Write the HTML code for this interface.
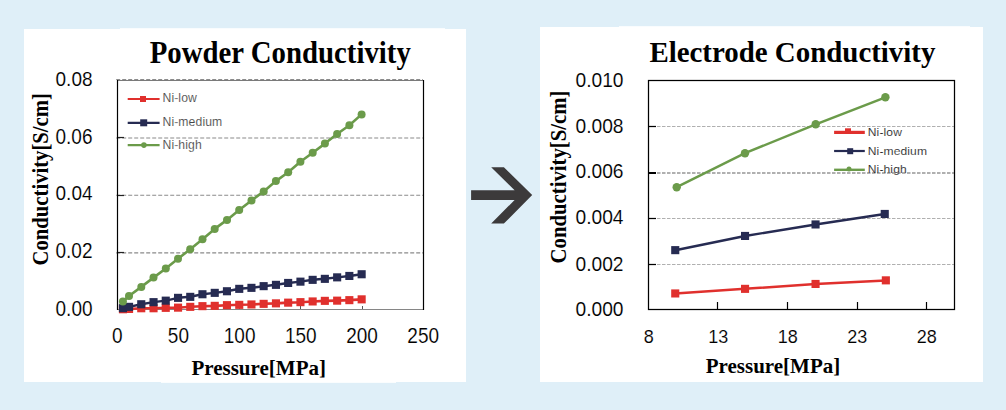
<!DOCTYPE html>
<html><head><meta charset="utf-8"><style>
html,body{margin:0;padding:0;background:#DFEFF8;}
body{width:1006px;height:410px;overflow:hidden;}
svg{display:block;}
.serif{font-family:"Liberation Serif",serif;font-weight:bold;fill:#000;}
.sans{font-family:"Liberation Sans",sans-serif;fill:#000;stroke:#fff;stroke-width:0.12px;}
</style></head><body>
<svg width="1006" height="410" viewBox="0 0 1006 410">
<rect x="0" y="0" width="1006" height="410" fill="#DFEFF8"/>
<rect x="24" y="29" width="442" height="353" fill="#fff"/>
<rect x="120" y="28" width="325" height="1" fill="#fff" opacity="0.8"/>
<rect x="161" y="382" width="235" height="1" fill="#fff" opacity="0.85"/>
<rect x="540" y="27" width="443" height="355" fill="#fff"/>
<rect x="619" y="26" width="351" height="1" fill="#fff" opacity="0.8"/>

<g id="left">
<line x1="116.2" y1="79.5" x2="423" y2="79.5" stroke="#8C8C8C" stroke-width="1" stroke-dasharray="4 2"/>
<line x1="117" y1="80.5" x2="423" y2="80.5" stroke="#7A7A7A" stroke-width="1"/>
<line x1="116.2" y1="138.0" x2="423" y2="138.0" stroke="#8A8A8A" stroke-width="1.1" stroke-dasharray="4 2"/>
<line x1="116.2" y1="195.3" x2="423" y2="195.3" stroke="#8A8A8A" stroke-width="1.1" stroke-dasharray="4 2"/>
<line x1="116.2" y1="252.9" x2="423" y2="252.9" stroke="#8A8A8A" stroke-width="1.1" stroke-dasharray="4 2"/>
<line x1="117" y1="309.5" x2="424" y2="309.5" stroke="#868686" stroke-width="1"/>
<line x1="117.5" y1="80" x2="117.5" y2="310" stroke="#000" stroke-width="1.2"/>
<line x1="423.5" y1="80" x2="423.5" y2="310" stroke="#000" stroke-width="1.2"/>
<line x1="118" y1="137.5" x2="124" y2="137.5" stroke="#222" stroke-width="1.2"/>
<line x1="118" y1="195.5" x2="124" y2="195.5" stroke="#222" stroke-width="1.2"/>
<line x1="118" y1="252.5" x2="124" y2="252.5" stroke="#222" stroke-width="1.2"/>
<line x1="178.5" y1="306" x2="178.5" y2="309" stroke="#555" stroke-width="1"/>
<line x1="239.5" y1="306" x2="239.5" y2="309" stroke="#555" stroke-width="1"/>
<line x1="300.5" y1="306" x2="300.5" y2="309" stroke="#555" stroke-width="1"/>
<line x1="362.5" y1="306" x2="362.5" y2="309" stroke="#555" stroke-width="1"/>
<polyline points="122.9,309.3 129.0,309.0 141.3,308.3 153.5,308.3 165.8,307.9 178.0,307.7 190.2,306.8 202.5,306.2 214.7,305.9 227.0,305.2 239.2,304.8 251.5,304.5 263.7,303.8 275.9,303.4 288.2,302.6 300.4,302.2 312.7,301.5 324.9,300.9 337.1,300.6 349.4,300.1 361.6,299.4" fill="none" stroke="#E0302D" stroke-width="2.6" stroke-linejoin="round"/>
<rect x="118.9" y="305.2" width="8.1" height="8.1" fill="#E0302D"/>
<rect x="125.0" y="304.9" width="8.1" height="8.1" fill="#E0302D"/>
<rect x="137.2" y="304.2" width="8.1" height="8.1" fill="#E0302D"/>
<rect x="149.5" y="304.2" width="8.1" height="8.1" fill="#E0302D"/>
<rect x="161.7" y="303.8" width="8.1" height="8.1" fill="#E0302D"/>
<rect x="174.0" y="303.6" width="8.1" height="8.1" fill="#E0302D"/>
<rect x="186.2" y="302.8" width="8.1" height="8.1" fill="#E0302D"/>
<rect x="198.4" y="302.1" width="8.1" height="8.1" fill="#E0302D"/>
<rect x="210.7" y="301.8" width="8.1" height="8.1" fill="#E0302D"/>
<rect x="222.9" y="301.1" width="8.1" height="8.1" fill="#E0302D"/>
<rect x="235.2" y="300.8" width="8.1" height="8.1" fill="#E0302D"/>
<rect x="247.4" y="300.4" width="8.1" height="8.1" fill="#E0302D"/>
<rect x="259.6" y="299.8" width="8.1" height="8.1" fill="#E0302D"/>
<rect x="271.9" y="299.3" width="8.1" height="8.1" fill="#E0302D"/>
<rect x="284.1" y="298.6" width="8.1" height="8.1" fill="#E0302D"/>
<rect x="296.4" y="298.1" width="8.1" height="8.1" fill="#E0302D"/>
<rect x="308.6" y="297.4" width="8.1" height="8.1" fill="#E0302D"/>
<rect x="320.8" y="296.8" width="8.1" height="8.1" fill="#E0302D"/>
<rect x="333.1" y="296.6" width="8.1" height="8.1" fill="#E0302D"/>
<rect x="345.3" y="296.1" width="8.1" height="8.1" fill="#E0302D"/>
<rect x="357.6" y="295.3" width="8.1" height="8.1" fill="#E0302D"/>
<polyline points="122.9,308.1 129.0,306.8 141.3,304.3 153.5,302.1 165.8,300.6 178.0,297.8 190.2,296.8 202.5,294.3 214.7,292.9 227.0,291.3 239.2,288.8 251.5,287.8 263.7,286.2 275.9,284.8 288.2,283.0 300.4,281.6 312.7,279.8 324.9,278.8 337.1,277.4 349.4,276.0 361.6,274.3" fill="none" stroke="#262B52" stroke-width="2.4" stroke-linejoin="round"/>
<rect x="118.9" y="304.1" width="8.1" height="8.1" fill="#262B52"/>
<rect x="125.0" y="302.8" width="8.1" height="8.1" fill="#262B52"/>
<rect x="137.2" y="300.2" width="8.1" height="8.1" fill="#262B52"/>
<rect x="149.5" y="298.1" width="8.1" height="8.1" fill="#262B52"/>
<rect x="161.7" y="296.6" width="8.1" height="8.1" fill="#262B52"/>
<rect x="174.0" y="293.8" width="8.1" height="8.1" fill="#262B52"/>
<rect x="186.2" y="292.8" width="8.1" height="8.1" fill="#262B52"/>
<rect x="198.4" y="290.2" width="8.1" height="8.1" fill="#262B52"/>
<rect x="210.7" y="288.8" width="8.1" height="8.1" fill="#262B52"/>
<rect x="222.9" y="287.2" width="8.1" height="8.1" fill="#262B52"/>
<rect x="235.2" y="284.8" width="8.1" height="8.1" fill="#262B52"/>
<rect x="247.4" y="283.8" width="8.1" height="8.1" fill="#262B52"/>
<rect x="259.6" y="282.1" width="8.1" height="8.1" fill="#262B52"/>
<rect x="271.9" y="280.8" width="8.1" height="8.1" fill="#262B52"/>
<rect x="284.1" y="278.9" width="8.1" height="8.1" fill="#262B52"/>
<rect x="296.4" y="277.6" width="8.1" height="8.1" fill="#262B52"/>
<rect x="308.6" y="275.8" width="8.1" height="8.1" fill="#262B52"/>
<rect x="320.8" y="274.8" width="8.1" height="8.1" fill="#262B52"/>
<rect x="333.1" y="273.3" width="8.1" height="8.1" fill="#262B52"/>
<rect x="345.3" y="271.9" width="8.1" height="8.1" fill="#262B52"/>
<rect x="357.6" y="270.2" width="8.1" height="8.1" fill="#262B52"/>
<polyline points="122.9,301.6 129.0,296.0 141.3,286.9 153.5,277.6 165.8,268.5 178.0,258.8 190.2,249.2 202.5,239.2 214.7,228.9 227.0,219.9 239.2,210.0 251.5,200.5 263.7,191.4 275.9,181.1 288.2,172.3 300.4,161.8 312.7,152.7 324.9,143.6 337.1,134.0 349.4,125.2 361.6,114.4" fill="none" stroke="#6B9B4A" stroke-width="2.6" stroke-linejoin="round"/>
<circle cx="122.9" cy="301.6" r="4" fill="#6B9B4A"/>
<circle cx="129.0" cy="296.0" r="4" fill="#6B9B4A"/>
<circle cx="141.3" cy="286.9" r="4" fill="#6B9B4A"/>
<circle cx="153.5" cy="277.6" r="4" fill="#6B9B4A"/>
<circle cx="165.8" cy="268.5" r="4" fill="#6B9B4A"/>
<circle cx="178.0" cy="258.8" r="4" fill="#6B9B4A"/>
<circle cx="190.2" cy="249.2" r="4" fill="#6B9B4A"/>
<circle cx="202.5" cy="239.2" r="4" fill="#6B9B4A"/>
<circle cx="214.7" cy="228.9" r="4" fill="#6B9B4A"/>
<circle cx="227.0" cy="219.9" r="4" fill="#6B9B4A"/>
<circle cx="239.2" cy="210.0" r="4" fill="#6B9B4A"/>
<circle cx="251.5" cy="200.5" r="4" fill="#6B9B4A"/>
<circle cx="263.7" cy="191.4" r="4" fill="#6B9B4A"/>
<circle cx="275.9" cy="181.1" r="4" fill="#6B9B4A"/>
<circle cx="288.2" cy="172.3" r="4" fill="#6B9B4A"/>
<circle cx="300.4" cy="161.8" r="4" fill="#6B9B4A"/>
<circle cx="312.7" cy="152.7" r="4" fill="#6B9B4A"/>
<circle cx="324.9" cy="143.6" r="4" fill="#6B9B4A"/>
<circle cx="337.1" cy="134.0" r="4" fill="#6B9B4A"/>
<circle cx="349.4" cy="125.2" r="4" fill="#6B9B4A"/>
<circle cx="361.6" cy="114.4" r="4" fill="#6B9B4A"/>
<line x1="127.7" y1="99" x2="159.6" y2="99" stroke="#E0302D" stroke-width="2.2"/>
<rect x="140" y="96" width="6" height="6" fill="#E0302D"/>
<line x1="127.7" y1="122.9" x2="159.6" y2="122.9" stroke="#262B52" stroke-width="2.2"/>
<rect x="140.2" y="119.3" width="7" height="7" fill="#262B52"/>
<line x1="127.7" y1="145.1" x2="159.6" y2="145.1" stroke="#6B9B4A" stroke-width="2.4"/>
<circle cx="143.9" cy="145.1" r="2.8" fill="#6B9B4A"/>
<text x="162.5" y="102.4" class="sans" font-size="12.2" letter-spacing="0.1" style="fill:#444">Ni-low</text>
<text x="162.5" y="126" class="sans" font-size="12.2" letter-spacing="0.1" style="fill:#444">Ni-medium</text>
<text x="162.5" y="148.5" class="sans" font-size="12.2" letter-spacing="0.1" style="fill:#444">Ni-high</text>
<text transform="translate(92.5,85.9) scale(1,1.07)" class="sans" font-size="19" text-anchor="end">0.08</text>
<text transform="translate(92.5,143.9) scale(1,1.16)" class="sans" font-size="19" text-anchor="end">0.06</text>
<text transform="translate(92.5,200.4) scale(1,1.09)" class="sans" font-size="19" text-anchor="end">0.04</text>
<text transform="translate(92.5,257.9) scale(1,1.125)" class="sans" font-size="19" text-anchor="end">0.02</text>
<text transform="translate(92.5,315.6) scale(1,1.17)" class="sans" font-size="19" text-anchor="end">0.00</text>
<text transform="translate(117.2,343) scale(1,1.13)" class="sans" font-size="19" text-anchor="middle">0</text>
<text transform="translate(178.4,343) scale(1,1.13)" class="sans" font-size="19" text-anchor="middle">50</text>
<text transform="translate(239.6,343) scale(1,1.13)" class="sans" font-size="19" text-anchor="middle">100</text>
<text transform="translate(300.8,343) scale(1,1.13)" class="sans" font-size="19" text-anchor="middle">150</text>
<text transform="translate(362.0,343) scale(1,1.13)" class="sans" font-size="19" text-anchor="middle">200</text>
<text transform="translate(423.2,343) scale(1,1.13)" class="sans" font-size="19" text-anchor="middle">250</text>
<text transform="translate(280.3,63.3) scale(1,1.065)" class="serif" font-size="28.8" text-anchor="middle">Powder Conductivity</text>
<text x="258.7" y="375.2" class="serif" font-size="21" text-anchor="middle">Pressure[MPa]</text>
<text transform="translate(48.1,179.3) rotate(-90) scale(0.92,1)" x="0" y="0" class="serif" font-size="22.5" text-anchor="middle">Conductivity[S/cm]</text>
</g>
<g id="arrow" fill="#3C3A3B">
<polygon points="471.1,190.3 514.6,190.3 491.2,167.2 503.9,167.2 532.2,195.1 503.9,223.5 491.2,223.5 514.6,200 471.1,200"/>
</g>
<g id="right">
<line x1="657" y1="126.5" x2="954" y2="126.5" stroke="#B0B0B0" stroke-width="1" stroke-dasharray="3.5 1.5"/>
<line x1="657" y1="173.0" x2="954" y2="173.0" stroke="#B0B0B0" stroke-width="2" stroke-dasharray="3.5 1.5"/>
<line x1="657" y1="218.5" x2="954" y2="218.5" stroke="#B0B0B0" stroke-width="1" stroke-dasharray="3.5 1.5"/>
<line x1="657" y1="264.5" x2="954" y2="264.5" stroke="#B0B0B0" stroke-width="1" stroke-dasharray="3.5 1.5"/>
<rect x="648.5" y="80.5" width="306" height="229" fill="none" stroke="#000" stroke-width="1.25"/>
<line x1="649" y1="126.5" x2="656" y2="126.5" stroke="#000" stroke-width="1.25"/>
<line x1="649" y1="173.0" x2="656" y2="173.0" stroke="#000" stroke-width="2"/>
<line x1="649" y1="218.5" x2="656" y2="218.5" stroke="#000" stroke-width="1.25"/>
<line x1="649" y1="264.5" x2="656" y2="264.5" stroke="#000" stroke-width="1.25"/>
<line x1="717.5" y1="302" x2="717.5" y2="309" stroke="#000" stroke-width="1.2"/>
<line x1="787.5" y1="302" x2="787.5" y2="309" stroke="#000" stroke-width="1.2"/>
<line x1="857.5" y1="302" x2="857.5" y2="309" stroke="#000" stroke-width="1.2"/>
<line x1="926.5" y1="302" x2="926.5" y2="309" stroke="#000" stroke-width="1.2"/>
<polyline points="675.3,293.5 745,288.8 815.5,284.0 885.8,280.4" fill="none" stroke="#E0302D" stroke-width="2.5"/>
<rect x="671.2" y="289.4" width="8.1" height="8.1" fill="#E0302D"/>
<rect x="741.0" y="284.8" width="8.1" height="8.1" fill="#E0302D"/>
<rect x="811.5" y="279.9" width="8.1" height="8.1" fill="#E0302D"/>
<rect x="881.8" y="276.3" width="8.1" height="8.1" fill="#E0302D"/>
<polyline points="675.3,250.2 745,236.0 815.5,224.5 884.7,214.0" fill="none" stroke="#262B52" stroke-width="2.4"/>
<rect x="671.2" y="246.1" width="8.1" height="8.1" fill="#262B52"/>
<rect x="741.0" y="231.9" width="8.1" height="8.1" fill="#262B52"/>
<rect x="811.5" y="220.4" width="8.1" height="8.1" fill="#262B52"/>
<rect x="880.7" y="209.9" width="8.1" height="8.1" fill="#262B52"/>
<polyline points="676.7,187.2 745.0,153.2 815.7,124.3 885.4,97.3" fill="none" stroke="#6B9B4A" stroke-width="2.5"/>
<circle cx="676.7" cy="187.2" r="4.2" fill="#6B9B4A"/>
<circle cx="745.0" cy="153.2" r="4.2" fill="#6B9B4A"/>
<circle cx="815.7" cy="124.3" r="4.2" fill="#6B9B4A"/>
<circle cx="885.4" cy="97.3" r="4.2" fill="#6B9B4A"/>
<line x1="834.1" y1="132.4" x2="864.8" y2="132.4" stroke="#E0302D" stroke-width="3.2"/>
<rect x="845" y="128.3" width="6" height="4" fill="#E0302D"/>
<line x1="834.1" y1="151" x2="864.8" y2="151" stroke="#262B52" stroke-width="2.2"/>
<rect x="847.2" y="148.2" width="6" height="6" fill="#262B52"/>
<line x1="834.1" y1="169.8" x2="864.8" y2="169.8" stroke="#6B9B4A" stroke-width="2.4"/>
<circle cx="849" cy="169" r="2.5" fill="#6B9B4A"/>
<text transform="translate(867.8,136.1) scale(1,0.84)" class="sans" font-size="12.1" letter-spacing="0.1" style="fill:#222">Ni-low</text>
<text transform="translate(867.8,154.9) scale(1,0.84)" class="sans" font-size="12.1" letter-spacing="0.1" style="fill:#222">Ni-medium</text>
<text transform="translate(867.8,173.0) scale(1,0.84)" class="sans" font-size="12.1" letter-spacing="0.1" style="fill:#222">Ni-high</text>
<text transform="translate(623.5,86.9) scale(1,1.06)" class="sans" font-size="19.2" text-anchor="end">0.010</text>
<text transform="translate(623.5,132.6) scale(1,1.06)" class="sans" font-size="19.2" text-anchor="end">0.008</text>
<text transform="translate(623.5,177.7) scale(1,1.06)" class="sans" font-size="19.2" text-anchor="end">0.006</text>
<text transform="translate(623.5,223.7) scale(1,1.06)" class="sans" font-size="19.2" text-anchor="end">0.004</text>
<text transform="translate(623.5,270.7) scale(1,1.06)" class="sans" font-size="19.2" text-anchor="end">0.002</text>
<text transform="translate(623.5,315.6) scale(1,1.06)" class="sans" font-size="19.2" text-anchor="end">0.000</text>
<text transform="translate(648.7,342.8) scale(1,1.07)" class="sans" font-size="18" text-anchor="middle">8</text>
<text transform="translate(718.2,342.8) scale(1,1.07)" class="sans" font-size="18" text-anchor="middle">13</text>
<text transform="translate(787.7,342.8) scale(1,1.07)" class="sans" font-size="18" text-anchor="middle">18</text>
<text transform="translate(857.2,342.8) scale(1,1.07)" class="sans" font-size="18" text-anchor="middle">23</text>
<text transform="translate(926.7,342.8) scale(1,1.07)" class="sans" font-size="18" text-anchor="middle">28</text>
<text transform="translate(792.4,61.6) scale(1,1.02)" class="serif" font-size="28.9" text-anchor="middle">Electrode Conductivity</text>
<text x="773" y="373.4" class="serif" font-size="21" text-anchor="middle">Pressure[MPa]</text>
<text transform="translate(565.7,177.0) rotate(-90) scale(0.926,1)" x="0" y="0" class="serif" font-size="22.4" text-anchor="middle">Conductivity[S/cm]</text>
</g>
</svg></body></html>
